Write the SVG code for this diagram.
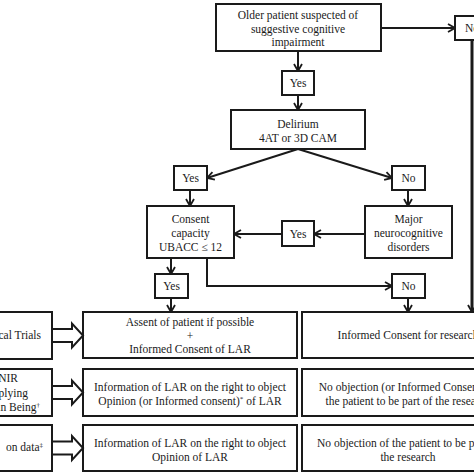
<svg xmlns="http://www.w3.org/2000/svg" width="474" height="474" viewBox="0 0 474 474">
<defs>
<marker id="ah" markerWidth="10" markerHeight="10" refX="9" refY="5" orient="auto" markerUnits="userSpaceOnUse">
<path d="M2,1 L9,5 L2,9" fill="none" stroke="#1a1a1a" stroke-width="1.8"/>
</marker>
</defs>
<style>
rect{fill:#fff;stroke:#1a1a1a;stroke-width:2}
text{font-family:"Liberation Serif","Times New Roman",serif;font-size:11.5px;fill:#1a1a1a;text-anchor:middle}
.e{text-anchor:end}
.s{text-anchor:start}
.c path{fill:none;stroke:#1a1a1a;stroke-width:2}
.blk{fill:#fff;stroke:#1a1a1a;stroke-width:2;stroke-linejoin:miter}
sup{font-size:7px}
</style>
<rect x="0" y="0" width="474" height="474" style="fill:#fff;stroke:none"/>

<g class="c" id="connectors">
<path d="M298,51 V71" marker-end="url(#ah)"/>
<path d="M298,95 V110" marker-end="url(#ah)"/>
<path d="M381,28 H455" marker-end="url(#ah)"/>
<path d="M298,149 L207,178" marker-end="url(#ah)"/>
<path d="M298,149 L392,178" marker-end="url(#ah)"/>
<path d="M190,190 V206" marker-end="url(#ah)"/>
<path d="M408,190 V206" marker-end="url(#ah)"/>
<path d="M365,234 H314" marker-end="url(#ah)"/>
<path d="M282,234 H234" marker-end="url(#ah)"/>
<path d="M171,258 V274" marker-end="url(#ah)"/>
<path d="M207,258 V286 H392" marker-end="url(#ah)"/>
<path d="M171,298 V312" marker-end="url(#ah)"/>
<path d="M408,298 V312" marker-end="url(#ah)"/>
<path d="M472,40 V312" style="stroke-width:3" marker-end="url(#ah)"/>
</g>

<g id="top">
<rect x="216" y="4" width="165" height="47"/>
<text x="298" y="19">Older patient suspected of</text>
<text x="298" y="32.5">suggestive cognitive</text>
<text x="298" y="46">impairment</text>
</g>
<g id="no-top">
<rect x="455" y="16" width="40" height="24"/>
<text class="s" x="465" y="32">No</text>
</g>
<g id="yes1">
<rect x="282" y="71" width="32" height="24"/>
<text x="298" y="87">Yes</text>
</g>
<g id="delirium">
<rect x="231" y="110" width="134" height="39"/>
<text x="298" y="128">Delirium</text>
<text x="298" y="141.5">4AT or 3D CAM</text>
</g>
<g id="yes2">
<rect x="174" y="166" width="33" height="24"/>
<text x="190.5" y="182">Yes</text>
</g>
<g id="no2">
<rect x="392" y="166" width="33" height="24"/>
<text x="408.5" y="182">No</text>
</g>
<g id="consent">
<rect x="147" y="206" width="87" height="52"/>
<text x="190.5" y="223">Consent</text>
<text x="190.5" y="237">capacity</text>
<text x="190.5" y="251">UBACC ≤ 12</text>
</g>
<g id="major">
<rect x="365" y="206" width="87" height="52"/>
<text x="408.5" y="223">Major</text>
<text x="408.5" y="237">neurocognitive</text>
<text x="408.5" y="251">disorders</text>
</g>
<g id="yes3">
<rect x="282" y="221" width="32" height="25"/>
<text x="298" y="238">Yes</text>
</g>
<g id="yes4">
<rect x="155" y="274" width="33" height="24"/>
<text x="171.5" y="290">Yes</text>
</g>
<g id="no4">
<rect x="392" y="274" width="33" height="24"/>
<text x="408.5" y="290">No</text>
</g>

<g id="assent">
<rect x="83" y="312" width="214" height="46"/>
<text x="190" y="326">Assent of patient if possible</text>
<text x="190" y="339.5">+</text>
<text x="190" y="353">Informed Consent of LAR</text>
</g>
<g id="informed">
<rect x="302" y="312" width="212" height="46"/>
<text x="408" y="339">Informed Consent for research</text>
</g>
<g id="info2">
<rect x="83" y="369" width="214" height="47"/>
<text x="190" y="391">Information of LAR on the right to object</text>
<text x="190" y="405">Opinion (or Informed consent)<tspan dy="-4" style="font-size:7px">*</tspan><tspan dy="4"> of LAR</tspan></text>
</g>
<g id="noobj2">
<rect x="302" y="369" width="212" height="47"/>
<text x="408" y="391">No objection (or Informed Consent) of</text>
<text x="408" y="405">the patient to be part of the research</text>
</g>
<g id="info3">
<rect x="83" y="425" width="214" height="46"/>
<text x="190" y="447">Information of LAR on the right to object</text>
<text x="190" y="460.5">Opinion of LAR</text>
</g>
<g id="noobj3">
<rect x="302" y="425" width="212" height="46"/>
<text x="408" y="447">No objection of the patient to be part of</text>
<text x="408" y="460.5">the research</text>
</g>

<g id="left1">
<rect x="-20" y="312" width="72" height="47"/>
<text class="e" x="41" y="339">cal Trials</text>
<polygon class="blk" points="52,329 72,329 72,323.5 83,335.5 72,347.5 72,342 52,342"/>
</g>
<g id="left2">
<rect x="-20" y="369" width="72" height="47"/>
<text class="e" x="18" y="382">NIR</text>
<text class="e" x="28" y="397">plying</text>
<text class="e" x="40" y="411">an Being<tspan dy="-4" style="font-size:7px">†</tspan></text>
<polygon class="blk" points="52,386 72,386 72,380.5 83,392.5 72,404.5 72,399 52,399"/>
</g>
<g id="left3">
<rect x="-20" y="425" width="72" height="46"/>
<text class="e" x="43" y="451">on data<tspan dy="-4" style="font-size:7px">‡</tspan></text>
<polygon class="blk" points="52,441.5 72,441.5 72,436 83,448 72,460 72,454.5 52,454.5"/>
</g>
</svg>
